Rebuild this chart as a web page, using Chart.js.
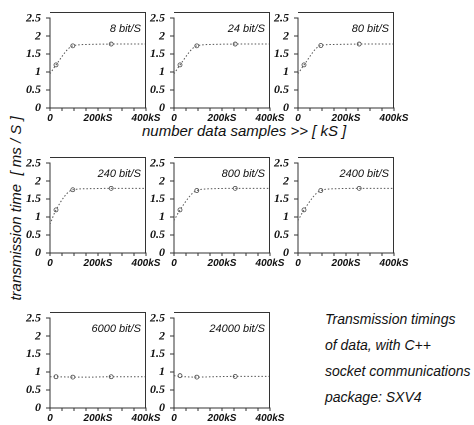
<!DOCTYPE html>
<html><head><meta charset="utf-8">
<script src="https://cdn.jsdelivr.net/npm/chart.js@4"></script>
<style>
body{margin:0;width:474px;height:425px;background:#fff;position:relative;overflow:hidden;font-family:"Liberation Sans",sans-serif;font-style:italic}
canvas{position:absolute}
.t{position:absolute;white-space:nowrap;color:#111}
</style></head><body>
<div class="t" style="left:142px;top:122px;font-size:15px">number data samples &gt;&gt; [ kS ]</div>
<div class="t" style="left:-90px;top:200px;font-size:15px;transform:rotate(-90deg);width:210px;text-align:center">transmission time &nbsp;[ ms / S ]</div>
<div class="t" style="left:325px;top:306px;font-size:14px;line-height:26px">Transmission timings<br>of data, with C++<br>socket communications<br>package: SXV4</div>
<script>
// panel labels
const rates = ['8 bit/S', '24 bit/S', '80 bit/S', '240 bit/S', '800 bit/S', '2400 bit/S', '6000 bit/S', '24000 bit/S'];
const sampleX = [25, 95, 255];           // kS, measured points
const measured = [
  [1.2, 1.73, 1.78], [1.2, 1.73, 1.78], [1.2, 1.74, 1.78],
  [1.2, 1.76, 1.8], [1.2, 1.74, 1.8], [1.2, 1.74, 1.8],
  [0.87, 0.86, 0.87], [0.9, 0.86, 0.88]
];
const fitX = [0, 25, 95, 160, 255, 400];
const fitY = [
  [0.95, 1.2, 1.73, 1.77, 1.78, 1.78], [0.95, 1.2, 1.73, 1.77, 1.78, 1.78], [0.95, 1.2, 1.74, 1.77, 1.78, 1.78],
  [0.8, 1.2, 1.76, 1.79, 1.8, 1.8], [0.9, 1.2, 1.74, 1.79, 1.8, 1.8], [0.9, 1.2, 1.74, 1.79, 1.8, 1.8],
  [0.87, 0.87, 0.86, 0.86, 0.87, 0.87], [0.9, 0.88, 0.86, 0.87, 0.88, 0.88]
];
const yTicks = [0, 0.5, 1, 1.5, 2, 2.5];
const xLabels = {0: '0', 200: '200kS', 400: '400kS'};

const colsX = [50, 174, 298];
const rowsY = [12, 157, 312];
const plotW = 96, plotH = 96, padL = 32, padR = 16, padB = 18, padT = 6;

const labelPlugin = {
  id: 'rateLabel',
  afterDraw(c, args, opts) {
    const a = c.chartArea, ctx = c.ctx;
    ctx.save();
    ctx.font = 'italic 11px "Liberation Sans"';
    ctx.fillStyle = '#111';
    ctx.textAlign = 'right';
    ctx.fillText(opts.text, a.right - 5, a.top + 14);
    ctx.restore();
  }
};

rates.forEach((rate, i) => {
  const col = i % 3, row = Math.floor(i / 3);
  const cv = document.createElement('canvas');
  const w = plotW + padL + padR, h = plotH + padT + padB;
  cv.style.left = (colsX[col] - padL) + 'px';
  cv.style.top = (rowsY[row] - padT) + 'px';
  cv.style.width = w + 'px'; cv.style.height = h + 'px';
  document.body.appendChild(cv);
  new Chart(cv, {
    type: 'scatter',
    data: {
      datasets: [{
        data: fitX.map((x, k) => ({x: x, y: fitY[i][k]})),
        showLine: true, borderColor: '#555', borderWidth: 1, borderDash: [1.5, 2],
        pointRadius: 0, cubicInterpolationMode: 'monotone'
      }, {
        data: sampleX.map((x, k) => ({x: x, y: measured[i][k]})),
        pointRadius: 2, pointBorderColor: '#444', pointBackgroundColor: '#fff', pointBorderWidth: 0.8
      }]
    },
    options: {
      responsive: false, animation: false, devicePixelRatio: 2,
      layout: {padding: {left: 0, right: padR, top: padT, bottom: 0}},
      plugins: {legend: {display: false}, tooltip: {enabled: false}, rateLabel: {text: rate}},
      scales: {
        x: {
          type: 'linear', min: 0, max: 400,
          afterFit(s) { s.height = padB; },
          afterBuildTicks(s) { s.ticks = [0, 50, 100, 150, 200, 250, 300, 350, 400].map(v => ({value: v})); },
          ticks: {padding: 1, maxRotation: 0, autoSkip: false, color: '#111',
            font: {family: 'Liberation Sans', style: 'italic', weight: 'bold', size: 10},
            callback: v => xLabels[v] || ''},
          grid: {drawOnChartArea: false, tickLength: 3, color: '#333'},
          border: {color: '#333'}
        },
        y: {
          min: 0, max: 2.5,
          afterFit(s) { s.width = padL; },
          afterBuildTicks(s) { s.ticks = yTicks.map(v => ({value: v})); },
          ticks: {padding: 5, color: '#111', callback: v => String(v),
            font: {family: 'Liberation Serif', style: 'italic', weight: 'bold', size: 12}},
          grid: {drawOnChartArea: false, tickLength: 4, color: '#333'},
          border: {color: '#333'}
        }
      }
    },
    plugins: [labelPlugin]
  });
});
</script>
<script>
// top/right frame lines for each plot
colsX.forEach(x => rowsY.forEach((y, r) => {
  if (r === 2 && x === 298) return;
  const d = document.createElement('div');
  d.style.cssText = `position:absolute;left:${x}px;top:${y}px;width:${plotW}px;height:${plotH}px;border-top:1px solid #333;border-right:1px solid #333;box-sizing:border-box;pointer-events:none`;
  document.body.appendChild(d);
}));
</script>
</body></html>
